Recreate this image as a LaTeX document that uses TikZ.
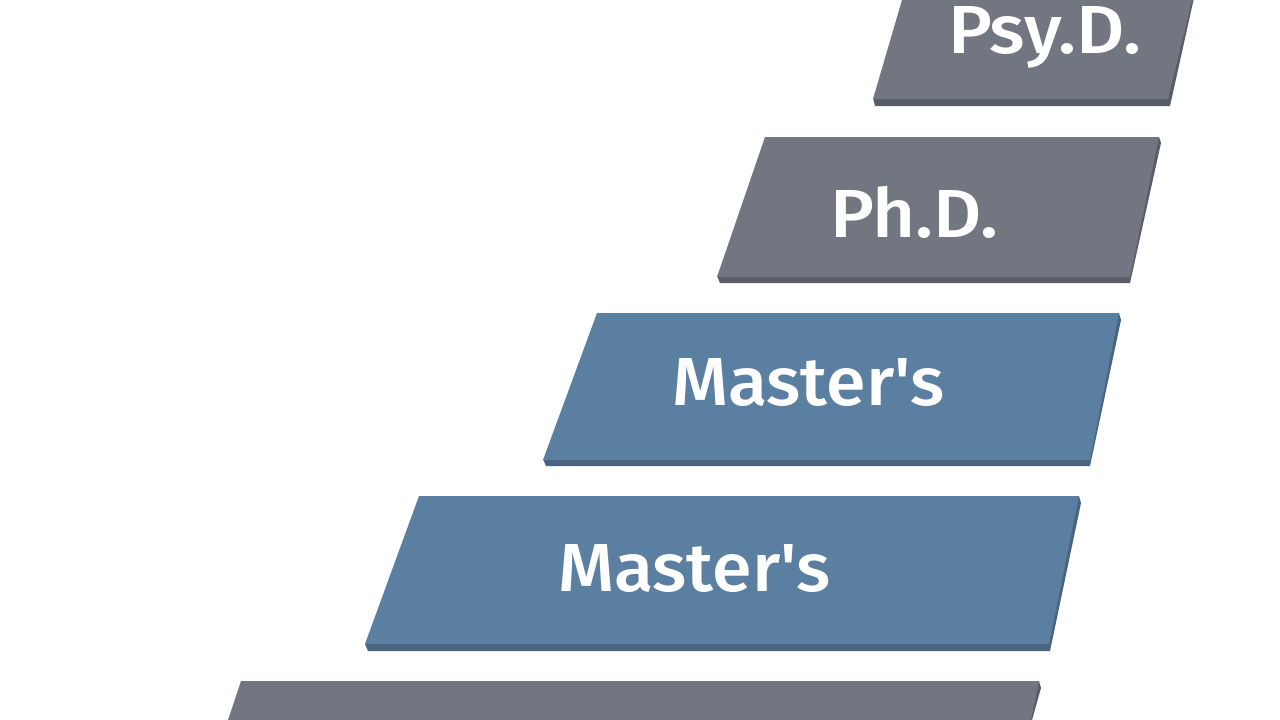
\documentclass[tikz,border=0pt]{standalone}
\usepackage{fontspec}
\newfontfamily\labelfont{Fira Sans}[UprightFont=* Medium,FakeStretch=1.095]
\newfontfamily\masterfont{Fira Sans}[UprightFont=* Medium,FakeStretch=1.055]
\definecolor{grayface}{HTML}{727680}
\definecolor{grayside}{HTML}{585D68}
\definecolor{blueface}{HTML}{5B7FA1}
\definecolor{blueside}{HTML}{4A647F}
\tikzset{
  face/.style={line join=round},
  label/.style={text=white,font=\labelfont\fontsize{68}{68}\selectfont,inner sep=0pt,anchor=base west},
  masterlabel/.style={text=white,font=\masterfont\fontsize{68}{68}\selectfont,inner sep=0pt,anchor=base west},
}
\begin{document}
\begin{tikzpicture}[x=1pt,y=-1pt]
\useasboundingbox (0,0) rectangle (1280,720);
\fill[white] (0,0) rectangle (1280,720);
% Psy.D.
\fill[grayside] (873,98) -- (875,106) -- (1170,106) -- (1193.5,0) -- (1180,0) -- cycle;
\fill[grayface,face] (902,0) -- (873,99) -- (1168,99) -- (1192,0) -- cycle;
% Ph.D.
\fill[grayside] (717,276) -- (720,283) -- (1130,283) -- (1161,143) -- (1159,137) -- cycle;
\fill[grayface,face] (765,137) -- (717,277) -- (1130,277) -- (1159,137) -- cycle;
% Master's upper
\fill[blueside] (543,459) -- (546,466) -- (1090,466) -- (1121,320) -- (1119,313) -- cycle;
\fill[blueface,face] (597,313) -- (543,460) -- (1090,460) -- (1119,313) -- cycle;
% Master's lower
\fill[blueside] (365,644) -- (368,651) -- (1050,651) -- (1081,503) -- (1079,496) -- cycle;
\fill[blueface,face] (419,496) -- (365,644) -- (1049,644) -- (1079,496) -- cycle;
% bottom
\fill[grayside] (1039,681) -- (1041,688) -- (1032,720) -- (1020,720) -- cycle;
\fill[grayface,face] (241,681) -- (228,720) -- (1031,720) -- (1039,681) -- cycle;
\node[label] (psyd) at (948,53) {Psy.D.};
\node[label] (phd) at (830,237) {Ph.D.};
\node[masterlabel] (m1) at (672,405) {Master's};
\node[masterlabel] (m2) at (558,591) {Master's};
\end{tikzpicture}
\end{document}
